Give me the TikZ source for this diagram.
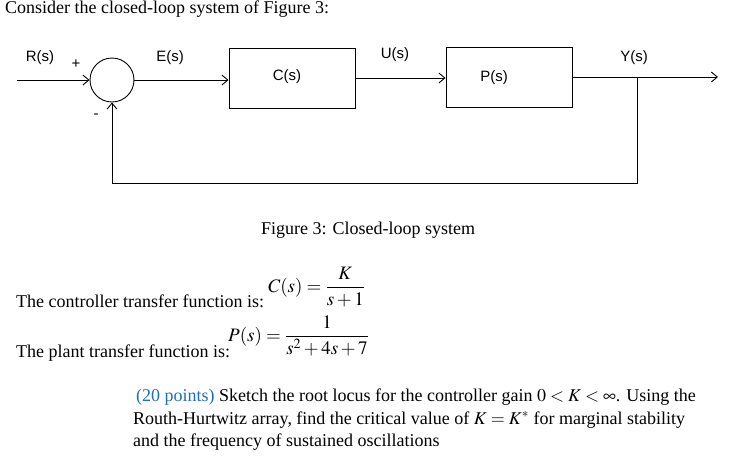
\documentclass[tikz,border=0pt]{standalone}
\usepackage{amsmath}
\usepackage{mathptmx}
\usepackage[no-math]{fontspec}
\setmainfont{Liberation Serif}
\newfontfamily\diagfont{Liberation Sans}
\usetikzlibrary{arrows.meta}
\definecolor{ptsblue}{RGB}{31,110,190}
\begin{document}
\begin{tikzpicture}[x=1pt,y=-1pt,
  blk/.style={draw,line width=0.9pt,minimum width=126pt,minimum height=60pt},
  lbl/.style={font=\diagfont\fontsize{15}{17}\selectfont},
  wire/.style={line width=0.9pt},
  arr/.style={wire,-{Straight Barb[length=6pt,width=10pt,line width=0.9pt]}},
  txt/.style={font=\fontsize{18}{21}\selectfont,inner sep=0pt}]
\useasboundingbox (0,0) rectangle (742,459);
\node[txt,anchor=north west] (intro) at (5,1) {Consider the closed-loop system of Figure 3:};
\node[draw,circle,line width=0.9pt,minimum size=44pt,inner sep=0pt] (sum) at (112,80) {};
\node[blk] (C) at (292,78) {};
\node[lbl] (Ct) at (287,77) {C(s)};
\node[blk] (P) at (509,77) {};
\node[lbl] (Pt) at (494,78) {P(s)};
\coordinate (in) at (17,80);
\coordinate (out) at (718,77);
\coordinate (br) at (637,77);
\coordinate (bl) at (637,183);
\coordinate (fb) at (112,183);
\draw[arr] (in) -- (sum.west);
\draw[arr] (sum.east) -- (C.west |- sum.east);
\draw[arr] (C.east) -- (P.west |- C.east);
\draw[arr] (P.east) -- (out);
\draw[wire] (br) -- (bl) -- (fb);
\draw[arr] (fb) -- (sum.south);
\node[lbl] (R) at (40,58) {R(s)};
\node[lbl] (plus) at (76,64) {+};
\node[lbl] (minus) at (96,116) {-};
\node[lbl] (E) at (170,58) {E(s)};
\node[lbl] (U) at (395,55) {U(s)};
\node[lbl] (Y) at (634,58) {Y(s)};
\node[txt] (cap) at (368,230) {Figure 3: Closed-loop system};
\node[txt,anchor=base west] (ct) at (16,307) {The controller transfer function is:};
\node[txt,anchor=base west] (cf) at (268,292) {\fontsize{19}{22}\selectfont$C(s)=\dfrac{K}{s+1}$};
\node[txt,anchor=base west] (pt) at (16,357) {The plant transfer function is:};
\node[txt,anchor=base west] (pf) at (228,341) {\fontsize{19}{22}\selectfont$P(s)=\dfrac{1}{s^{2}+4s+7}$};
\node[txt,anchor=base west] (q1) at (136,401) {\textcolor{ptsblue}{(20 points)} Sketch the root locus for the controller gain $0<K<\infty$. Using the};
\node[txt,anchor=base west] (q2) at (133,424) {Routh-Hurtwitz array, find the critical value of $K=K^{*}$ for marginal stability};
\node[txt,anchor=base west] (q3) at (133,446) {and the frequency of sustained oscillations};
\end{tikzpicture}
\end{document}
